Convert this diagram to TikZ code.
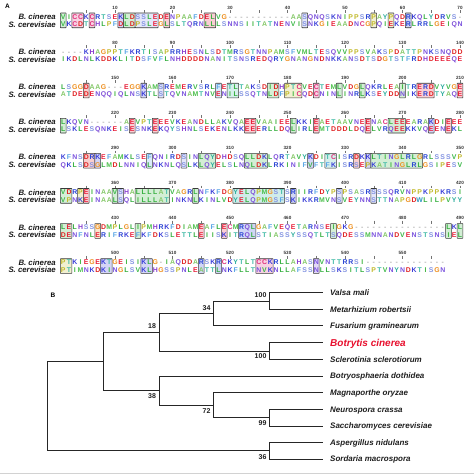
\documentclass[tikz,border=0pt]{standalone}
\usepackage{fontspec}
\setmainfont{Liberation Sans}
\definecolor{resA}{HTML}{86C96A}
\definecolor{resC}{HTML}{E0307A}
\definecolor{resD}{HTML}{E02222}
\definecolor{resE}{HTML}{E8203A}
\definecolor{resF}{HTML}{5AA6E6}
\definecolor{resG}{HTML}{EE9020}
\definecolor{resH}{HTML}{8A3FD0}
\definecolor{resI}{HTML}{44B844}
\definecolor{resK}{HTML}{3A3ED8}
\definecolor{resL}{HTML}{36B040}
\definecolor{resM}{HTML}{4CC04C}
\definecolor{resN}{HTML}{7A52DE}
\definecolor{resP}{HTML}{C2BA2C}
\definecolor{resQ}{HTML}{8050D8}
\definecolor{resR}{HTML}{2A44D4}
\definecolor{resS}{HTML}{8494E2}
\definecolor{resT}{HTML}{44BCA8}
\definecolor{resV}{HTML}{3CB848}
\definecolor{resW}{HTML}{3098C0}
\definecolor{resY}{HTML}{2EAE9E}
\definecolor{fgred}{HTML}{E8102E}
\tikzset{
  resch/.style={font=\bfseries\fontsize{6.9}{6.9}\selectfont, inner sep=0pt, anchor=base},
  gapch/.style={font=\bfseries\fontsize{6.9}{6.9}\selectfont, inner sep=0pt, anchor=base, text=gray!60},
  boxst/.style={draw=black!78, line width=0.6pt, rounded corners=0.4pt},
  tickst/.style={draw=black!55, line width=0.45pt},
  numst/.style={font=\bfseries\fontsize{4.6}{4.6}\selectfont, inner sep=0pt, text=black!80},
  seqlab/.style={font=\bfseries\itshape\fontsize{7.8}{7.8}\selectfont, inner sep=0pt, anchor=base east, text=black!90},
  panlab/.style={font=\bfseries\fontsize{6.5}{6.5}\selectfont, inner sep=0pt},
  branch/.style={draw=black!85, line width=0.8pt},
  leaf/.style={font=\bfseries\itshape\fontsize{8}{8}\selectfont, inner sep=0pt, anchor=base west, text=black!88},
  boot/.style={font=\bfseries\fontsize{7}{7}\selectfont, inner sep=0pt, anchor=base east, text=black!88}
}
\ExplSyntaxOn
\int_new:N \l_rs_col_int
\cs_new_protected:Npn \rs_put:nnnn #1 #2 #3 #4
 {
  \str_if_eq:nnTF {#4} {-}
   { \node[gapch] (#1) at (#2,#3) {-}; }
   { \node[resch,text=res#4] (#1) at (#2,#3) {#4}; }
 }
\cs_generate_variant:Nn \rs_put:nnnn { xxnn }
\NewDocumentCommand \seqrow { m m m }
 {
  \int_zero:N \l_rs_col_int
  \tl_map_inline:nn {#3}
   {
    \int_incr:N \l_rs_col_int
    \rs_put:xxnn {#1c\int_use:N \l_rs_col_int} {\fp_eval:n {63.25+(\l_rs_col_int-1)*5.75}} {#2} {##1}
   }
 }
\ExplSyntaxOff
\newcommand\blockticks[3]{%
  \foreach \c in {5,10,...,#3}{
    \draw[tickst] ({63.25+(\c-1)*5.75},{#1-6.6}) -- ({63.25+(\c-1)*5.75},{#1-3.8});
  }
  \foreach \c in {10,20,...,#3}{
    \pgfmathtruncatemacro\num{#2+\c}
    \node[numst,name=num\num] at ({63.25+(\c-1)*5.75},{#1-9}) {\num};
  }
}
\newcommand\bx[4]{\draw[boxst,fill=#4!22] ({63.25+(#2-1)*5.75-2.85},{#1-3.7}) rectangle ({63.25+(#3-1)*5.75+2.85},{#1+11.0});}
\newcommand\rowlabels[2]{%
  \node[seqlab,name=lb#1] at (56,{#2+2.8}) {B. cinerea};
  \node[seqlab,name=ls#1] at (56,{#2+10.3}) {S. cerevisiae};
}
\begin{document}
\begin{tikzpicture}[x=1pt,y=-1pt]
\useasboundingbox[fill=white] (0,0) rectangle (474,474);
\node[panlab,name=panA] at (7.5,6.5) {A};
% ---------- boxes (behind letters) ----------
% block 1 (y=16.7)
\bx{16.7}{1}{1}{resV}\bx{16.7}{3}{4}{resC}\bx{16.7}{6}{6}{resC}\bx{16.7}{11}{11}{resK}
\bx{16.7}{12}{13}{resL}\bx{16.7}{14}{17}{resS}\bx{16.7}{19}{19}{resE}\bx{16.7}{26}{27}{resE}
\bx{16.7}{43}{43}{resS}\bx{16.7}{55}{55}{resP}\bx{16.7}{58}{58}{resP}\bx{16.7}{61}{61}{resR}
% block 3 (y=86.9)
\bx{86.9}{5}{5}{resD}\bx{86.9}{15}{15}{resK}\bx{86.9}{18}{18}{resS}\bx{86.9}{28}{28}{resF}
\bx{86.9}{30}{31}{resT}\bx{86.9}{37}{38}{resI}\bx{86.9}{40}{42}{resP}\bx{86.9}{45}{45}{resC}
\bx{86.9}{49}{49}{resL}\bx{86.9}{53}{53}{resL}\bx{86.9}{60}{60}{resI}\bx{86.9}{63}{65}{resE}
\bx{86.9}{70}{70}{resE}
% block 4 (y=122.0)
\bx{122.0}{1}{1}{resL}\bx{122.0}{13}{13}{resE}\bx{122.0}{17}{17}{resE}\bx{122.0}{33}{34}{resE}
\bx{122.0}{41}{41}{resL}\bx{122.0}{45}{45}{resE}\bx{122.0}{54}{54}{resE}\bx{122.0}{58}{60}{resL}
\bx{122.0}{65}{65}{resK}\bx{122.0}{68}{68}{resE}
% block 5 (y=157.1)
\bx{157.1}{5}{6}{resD}\bx{157.1}{7}{7}{resK}\bx{157.1}{16}{16}{resF}\bx{157.1}{22}{22}{resS}
\bx{157.1}{25}{27}{resL}\bx{157.1}{33}{36}{resL}\bx{157.1}{44}{44}{resK}\bx{157.1}{47}{48}{resT}
\bx{157.1}{52}{52}{resD}\bx{157.1}{54}{54}{resK}\bx{157.1}{55}{63}{resL}
% block 6 (y=192.2)
\bx{192.2}{1}{2}{resV}\bx{192.2}{4}{4}{resP}\bx{192.2}{5}{5}{resE}\bx{192.2}{10}{10}{resV}
\bx{192.2}{11}{11}{resS}\bx{192.2}{14}{19}{resL}\bx{192.2}{24}{24}{resL}\bx{192.2}{31}{39}{resY}
\bx{192.2}{41}{41}{resR}\bx{192.2}{49}{49}{resS}\bx{192.2}{55}{55}{resS}
% block 7 (y=227.3)
\bx{227.3}{1}{2}{resL}\bx{227.3}{7}{7}{resG}\bx{227.3}{14}{14}{resI}\bx{227.3}{25}{25}{resE}
\bx{227.3}{29}{29}{resE}\bx{227.3}{32}{34}{resR}\bx{227.3}{48}{48}{resI}\bx{227.3}{68}{68}{resL}
\bx{227.3}{70}{70}{resL}
% block 8 (y=262.4)
\bx{262.4}{1}{2}{resP}\bx{262.4}{8}{9}{resK}\bx{262.4}{15}{16}{resK}\bx{262.4}{25}{25}{resR}
\bx{262.4}{28}{28}{resR}\bx{262.4}{35}{37}{resC}\bx{262.4}{45}{45}{resN}
% ---------- ticks and numbers ----------
\blockticks{16.7}{0}{70}
\blockticks{51.8}{70}{70}
\blockticks{86.9}{140}{70}
\blockticks{122.0}{210}{70}
\blockticks{157.1}{280}{70}
\blockticks{192.2}{350}{70}
\blockticks{227.3}{420}{70}
\blockticks{262.4}{490}{65}
% ---------- row labels ----------
\rowlabels{1}{16.7}\rowlabels{2}{51.8}\rowlabels{3}{86.9}\rowlabels{4}{122.0}
\rowlabels{5}{157.1}\rowlabels{6}{192.2}\rowlabels{7}{227.3}\rowlabels{8}{262.4}
% ---------- sequences ----------
\seqrow{ba}{19.1}{VICCKCRTSEKLDSSLEDENPAAFDELVG-----------AASQNQSKNIPPSRPAYPQDRKQLYDRVS-}
\seqrow{sa}{26.6}{VKCDTCHLPFDLDPSLEGLSLTQRNLLLSNNSIITATNENVISNKGIEAADNCGPQIEKERLRRLGEIQN}
\seqrow{bb}{54.2}{----KHAGPPTFKRTISAPRRHESNLSDTMRSGTNNPAMSFVMLTESQVVPPSVAKSPDATTPNKSNQDD}
\seqrow{sb}{61.7}{IKDLNLKDDKLITDSFVFLNHDDDDNANITSNSREDQRYGNANGNDNKKANSDTSDGTSTFRDHDEEEQE}
\seqrow{bc}{89.3}{LSGGDAAG---EGGKAMSREMERVSRLFETLTAKSDIDHPTCVECTEMLVDGLQKRLEAITRERDVYVGE}
\seqrow{sc}{96.8}{ATDEDENQQIQLNSKTLSTQVNAMTNVENILSSQTNLDFPICQDCNINLINRLKSEYDDNIKERDTYAQE}
\seqrow{bd}{124.4}{LKQVN------AEVPTEEEVKEANDLLAKVQAEEVAAIEELKKIEAETAAVNEENACLEEEARAKDIEEE}
\seqrow{sd}{131.9}{LSKLESQNKEISESNKEKQYSHNLSEKENLKKEEERLLDQLIRLEMTDDDLDQELVRQEEKKVQEENEKL}
\seqrow{be}{159.5}{KFNSDRKEFAMKLSEFQNIRDSINLQYDHDSQLLDKLQRTAVYKDITCISRDKKLTINGLRLGRLSSSVP}
\seqrow{se}{167.0}{QKLSDSGLMDLNNIQLNKNLQSLKLQYELSLNQLDKLRKINIFVFTFKISRSEPKATINGLRLGSIPESV}
\seqrow{bf}{194.6}{VDRPEINAAVSHALLLLATVAGRLNFKFDGYELQPMGSTSRIIRFDYPSPSASRSSSQRVNPPKPPKRSI}
\seqrow{sf}{202.1}{VPNKEINAALSQLILLLATINKNLKINLVDYELQPMGSFSKIKKRMVNSVEYNNSTTNAPGDWLILPVYY}
\seqrow{bg}{229.7}{LELHSSGDMPLGLIPMHRKFDIAMEAFLECMRQLGAFVEQETARNSEIGKG----------------LKL}
\seqrow{sg}{237.2}{DENFNLERIFRKEFKFDKSLETTLEIISKITRQLSTIASSYSSQTLTSQDESSMNNANDVENSTSNSIEL}
\seqrow{bh}{264.8}{PTKIEGEKTGEISIKLG-IAQDDARSKRCKYTLTCCKRLLAHASNVNTTRRSI--------------}
\seqrow{sh}{272.3}{PTIMNKDKINGLSVKLHGSSPNLEATTLNKFLLTNVKNLLAFSSNLLSKSITLSPTVNYNDKTISGN}
% ---------- panel B: tree ----------
\node[panlab,name=panB] at (53,295) {B};
\coordinate (lVal) at (323.3,292.7);
\coordinate (lMet) at (323.3,309.3);
\coordinate (lFus) at (323.3,325.7);
\coordinate (lBot) at (323.3,342.7);
\coordinate (lScl) at (323.3,359.3);
\coordinate (lBdo) at (323.3,376.0);
\coordinate (lMag) at (323.3,392.7);
\coordinate (lNeu) at (323.3,409.3);
\coordinate (lSac) at (323.3,426.0);
\coordinate (lAsp) at (323.3,442.7);
\coordinate (lSor) at (323.3,459.0);
\coordinate (nVM) at (269.3,301.0);
\coordinate (n34) at (213.3,313.35);
\coordinate (nBS) at (269.3,351.0);
\coordinate (n18) at (159.0,332.2);
\coordinate (n99) at (269.3,417.65);
\coordinate (n72) at (213.3,405.2);
\coordinate (n38) at (159.0,390.6);
\coordinate (n1838) at (103.3,361.4);
\coordinate (n36) at (269.3,450.85);
\coordinate (root) at (47.3,406.1);
\draw[branch] (nVM) |- (lVal);
\draw[branch] (nVM) |- (lMet);
\draw[branch] (n34) |- (nVM);
\draw[branch] (n34) |- (lFus);
\draw[branch] (nBS) |- (lBot);
\draw[branch] (nBS) |- (lScl);
\draw[branch] (n18) |- (n34);
\draw[branch] (n18) |- (nBS);
\draw[branch] (n99) |- (lNeu);
\draw[branch] (n99) |- (lSac);
\draw[branch] (n72) |- (lMag);
\draw[branch] (n72) |- (n99);
\draw[branch] (n38) |- (lBdo);
\draw[branch] (n38) |- (n72);
\draw[branch] (n1838) |- (n18);
\draw[branch] (n1838) |- (n38);
\draw[branch] (n36) |- (lAsp);
\draw[branch] (n36) |- (lSor);
\draw[branch] (root) |- (n1838);
\draw[branch] (root) |- (n36);
\node[leaf] (tVal) at (330,295.6) {Valsa mali};
\node[leaf] (tMet) at (330,312.2) {Metarhizium robertsii};
\node[leaf] (tFus) at (330,328.6) {Fusarium graminearum};
\node[leaf,text=fgred,font=\bfseries\itshape\fontsize{10}{10}\selectfont] (tBot) at (330,346.3) {Botrytis cinerea};
\node[leaf] (tScl) at (330,362.2) {Sclerotinia sclerotiorum};
\node[leaf] (tBdo) at (330,378.9) {Botryosphaeria dothidea};
\node[leaf] (tMag) at (330,395.6) {Magnaporthe oryzae};
\node[leaf] (tNeu) at (330,412.2) {Neurospora crassa};
\node[leaf] (tSac) at (330,428.9) {Saccharomyces cerevisiae};
\node[leaf] (tAsp) at (330,445.6) {Aspergillus nidulans};
\node[leaf] (tSor) at (330,461.9) {Sordaria macrospora};
\node[boot] (bVM) at (266.6,297.5) {100};
\node[boot] (b34) at (210.6,310.8) {34};
\node[boot] (b18) at (156.2,328.2) {18};
\node[boot] (bBS) at (266.6,358.5) {100};
\node[boot] (b38) at (156.2,398.5) {38};
\node[boot] (b72) at (210.6,413.2) {72};
\node[boot] (b99) at (266.6,425.8) {99};
\node[boot] (b36) at (266.6,459.2) {36};
\coordinate (bl0) at (0,472.8);
\coordinate (bl1) at (474,472.8);
\draw[gray!35, line width=0.5pt] (bl0) -- (bl1);
\end{tikzpicture}
\end{document}
